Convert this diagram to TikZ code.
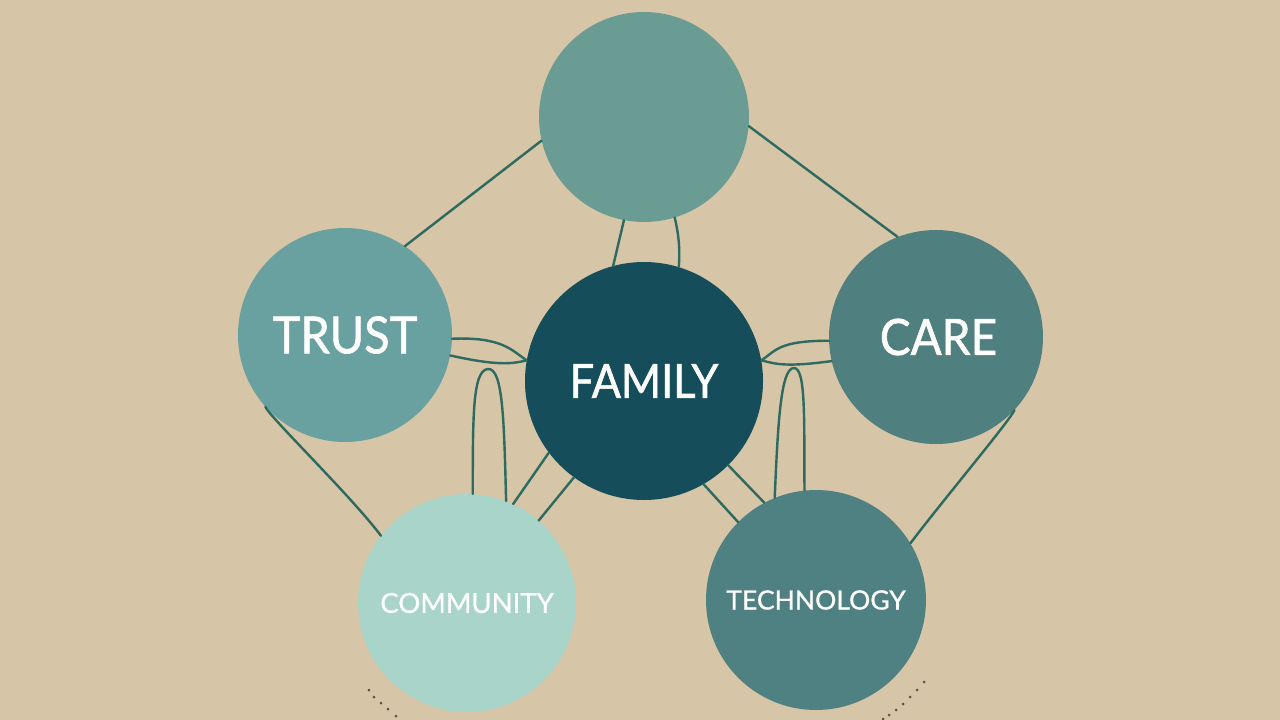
\documentclass[tikz,border=0pt]{standalone}
\usepackage{fontspec}
\setmainfont{Lato}[FakeBold=0.8]
\newfontfamily\bigfont{Lato}[FakeStretch=0.92,FakeBold=1.2]
\definecolor{bg}{HTML}{D6C5A7}
\definecolor{topc}{HTML}{6B9C93}
\definecolor{trustc}{HTML}{68A1A0}
\definecolor{carec}{HTML}{4F7F7E}
\definecolor{familyc}{HTML}{164D5B}
\definecolor{commc}{HTML}{A8D4CA}
\definecolor{techc}{HTML}{4F8183}
\definecolor{linkc}{HTML}{2D6A60}
\definecolor{dotc}{HTML}{5A5246}
\begin{document}
\begin{tikzpicture}[x=1pt,y=-1pt,
  ball/.style={circle,inner sep=0pt,text=white},
  link/.style={draw=linkc,line width=2.4pt,line cap=round},
  speck/.style={fill=dotc,circle,inner sep=0pt,minimum size=3pt}]
\useasboundingbox (0,0) rectangle (1280,720);
\fill[bg] (0,0) rectangle (1280,720);
% circles
\node[ball,fill=topc,minimum size=210pt] (top) at (644,117) {};
\node[ball,fill=trustc,minimum size=214pt,font=\bigfont\fontsize{51}{51}\selectfont] (trust) at (345,335) {TRUST};
\node[ball,fill=carec,minimum size=214pt,font=\bigfont\fontsize{50}{50}\selectfont] (care) at (936,337) {\hspace*{5pt}CARE};
\node[ball,fill=familyc,minimum size=238pt,font=\bigfont\fontsize{47}{47}\selectfont] (family) at (644,381) {\raisebox{-3pt}{FAMILY}};
\node[ball,fill=commc,minimum size=218pt,font=\fontsize{27.5}{27.5}\selectfont] (community) at (467,603) {COMMUNITY};
\node[ball,fill=techc,minimum size=220pt,font=\fontsize{26.5}{26.5}\selectfont] (technology) at (816,600) {\raisebox{-2pt}{TECHNOLOGY}};
% arch tops
\coordinate (larch) at (488,369);
\coordinate (rarch) at (794,368);
% connectors
\draw[link] (top.193) -- (trust.56);
\draw[link] (top.-5) -- (care.111);
\draw[link] (top.259) -- (family.105);
\draw[link] (top.287) to[bend left=8] (family.73);
\draw[link] (trust.-2) .. controls +(50,-2) and +(-15,-10) .. (family.170);
\draw[link] (trust.-11) .. controls +(45,10) and +(-15,4) .. (family.170);
\draw[link] (care.182) .. controls +(-50,0) and +(15,-10) .. (family.10);
\draw[link] (care.193) .. controls +(-45,6) and +(15,4) .. (family.10);
\draw[link] (community.87) .. controls (473,420) and (472,370) .. (larch) .. controls (503,368) and (504,420) .. (community.69);
\draw[link] (technology.112) .. controls (778,420) and (781,368) .. (rarch) .. controls (806,368) and (804,420) .. (technology.96);
\draw[link] (family.217) -- (community.65);
\draw[link] (family.234) -- (community.49);
\draw[link] (family.315) -- (technology.118);
\draw[link] (family.300) -- (technology.135);
\draw[link] (trust.222) .. controls +(4,10) and +(-30,-40) .. (community.142);
\draw[link] (care.-43) .. controls +(-4,10) and +(30,-40) .. (technology.31);
% dots
\foreach \p in {(369,690),(374,697),(381,703),(388,709),(396,716),
                (924,682),(917,690),(910,697),(903,704),(896,710),(889,715),(883,719)}
  \node[speck] at \p {};
\end{tikzpicture}
\end{document}
